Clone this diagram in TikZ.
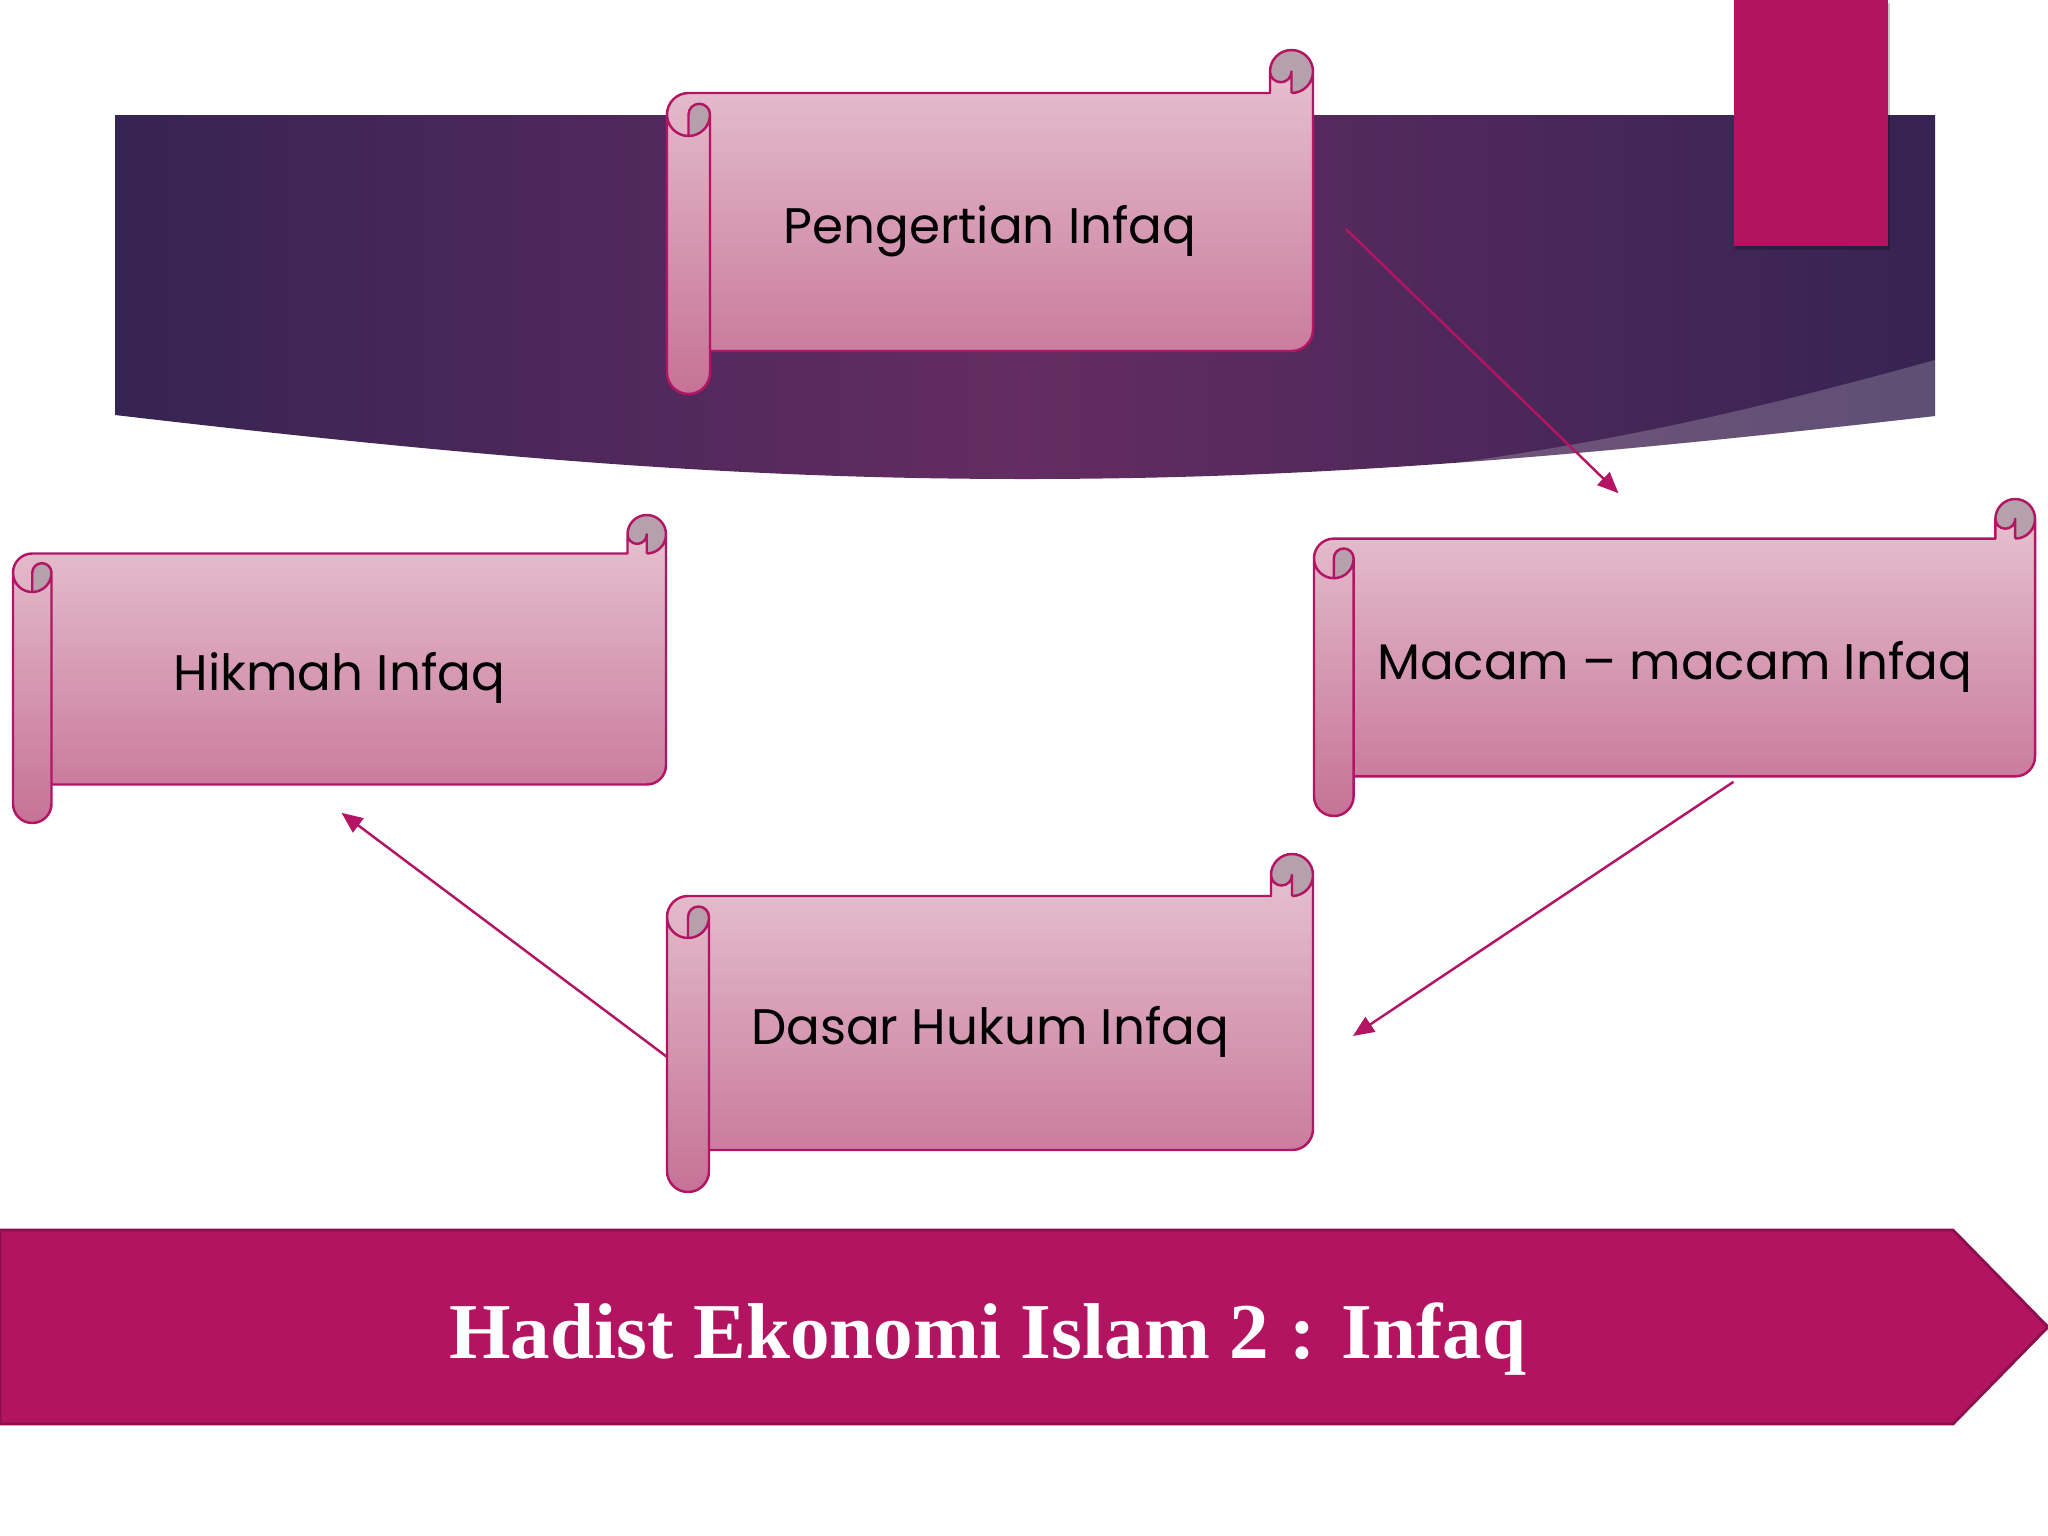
\documentclass[tikz,border=0pt]{standalone}
\usepackage{fontspec}
\setmainfont{Poppins}
\newfontfamily\titlefont{Liberation Serif}
\usetikzlibrary{arrows.meta,calc}

\definecolor{rosedark}{RGB}{180,20,100}
\definecolor{rosetop}{RGB}{231,197,210}
\definecolor{rosebot}{RGB}{198,114,150}
\definecolor{curlgray}{RGB}{182,160,171}
\definecolor{bannerred}{RGB}{178,20,98}
\definecolor{banneredge}{RGB}{140,14,76}
\definecolor{bandedge}{RGB}{54,36,82}
\definecolor{bandmid}{RGB}{100,44,98}

% outline of a rolled scroll (left, top, right, bottom, roll size)
\newcommand\scrollpath{%
  (\scL,\scT+\scC+\scH) arc[start angle=180,end angle=270,radius=\scH]
  -- (\scR-\scC,\scT+\scC) -- (\scR-\scC,\scT+\scH)
  arc[start angle=180,end angle=360,radius=\scH]
  -- (\scR,\scB-\scC-\scH) arc[start angle=0,end angle=90,radius=\scH]
  -- (\scL+\scC,\scB-\scC) -- (\scL+\scC,\scB-\scH)
  arc[start angle=0,end angle=180,radius=\scH] -- cycle}
\newcommand\scrollshape[5]{%
  \pgfmathsetmacro\scL{#1}\pgfmathsetmacro\scT{#2}%
  \pgfmathsetmacro\scR{#3}\pgfmathsetmacro\scB{#4}%
  \pgfmathsetmacro\scC{#5}\pgfmathsetmacro\scH{#5/2}\pgfmathsetmacro\scQ{#5/4}%
  \shade[top color=rosetop,bottom color=rosebot] \scrollpath;
  \fill[curlgray] (\scR-\scH,\scT+\scC) -- (\scR-\scH,\scT+\scH)
    arc[start angle=0,end angle=180,radius=\scQ]
    arc[start angle=180,end angle=360,radius=\scH]
    arc[start angle=0,end angle=90,radius=\scH] -- cycle;
  \fill[curlgray] (\scL+\scH,\scT+2*\scC)
    arc[start angle=90,end angle=0,radius=\scH]
    arc[start angle=0,end angle=-180,radius=\scQ] -- cycle;
  \draw[scrollline] \scrollpath
    (\scR-\scH,\scT+\scC) -- (\scR-\scH,\scT+\scH)
    arc[start angle=0,end angle=180,radius=\scQ]
    (\scR-\scH,\scT+\scC) arc[start angle=90,end angle=0,radius=\scH]
    (\scL,\scT+\scC+\scH) arc[start angle=180,end angle=0,radius=\scH]
    (\scL+\scH,\scT+2*\scC) -- (\scL+\scH,\scT+\scC+\scH)
    arc[start angle=180,end angle=360,radius=\scQ]
    -- (\scL+\scC,\scB-\scC);
}

\begin{document}
\begin{tikzpicture}[x=0.01cm,y=-0.01cm,
  scrollline/.style={draw=rosedark,line width=0.7pt,line join=round},
  scrolltext/.style={font=\fontsize{14.2}{17}\selectfont,inner sep=0pt},
  conn/.style={rosedark,line width=0.7pt,-{Triangle[length=6pt,width=5pt]}},
  titletext/.style={font=\titlefont\bfseries\fontsize{22.5}{26}\selectfont,text=white}]
  \useasboundingbox (0,0) rectangle (2048,1536);
  \fill[white] (0,0) rectangle (2048,1536);

  % purple band
  \shade[left color=bandedge,right color=bandedge,middle color=bandmid]
    (115,115) -- (1935,115) -- (1935,416)
    .. controls (1550,460) and (1300,479) .. (1025,479)
    .. controls (750,479) and (500,460) .. (115,415) -- cycle;
  \begin{scope}
    \clip (115,115) -- (1935,115) -- (1935,416)
      .. controls (1550,460) and (1300,479) .. (1025,479)
      .. controls (750,479) and (500,460) .. (115,415) -- cycle;
    \fill[white,opacity=0.2] (1935,360)
      .. controls (1700,425) and (1550,455) .. (1300,482)
      -- (1300,530) -- (1935,530) -- cycle;
  \end{scope}
  \fill[black,opacity=0.22] (1735,3) rectangle (1890,250);
  \fill[bannerred] (1734,0) rectangle (1888,246);

  % scrolls
  \scrollshape{667}{50}{1313}{394}{43}
  \scrollshape{13}{515}{666}{823}{38.5}
  \scrollshape{1314}{499}{2035}{816}{39.6}
  \scrollshape{667}{854}{1313}{1192}{42}

  \node[scrolltext,minimum width=6.46cm,minimum height=3.44cm] (peng) at (990,231) {Pengertian Infaq};
  \node[scrolltext,minimum width=6.53cm,minimum height=3.08cm] (hikmah) at (339.5,678) {Hikmah Infaq};
  \node[scrolltext,minimum width=7.21cm,minimum height=3.17cm] (macam) at (1674.5,666.5) {Macam -- macam Infaq};
  \node[scrolltext,minimum width=6.46cm,minimum height=3.38cm] (dasar) at (990,1032) {Dasar Hukum Infaq};

  \draw[conn] ($(peng.east)+(32,-2)$) -- ($(macam.north)+(-56,-14)$);
  \draw[conn] ($(macam.south)+(59,-44)$) -- ($(dasar.east)+(39,4)$);
  \draw[conn] ($(dasar.west)+(1,25)$) -- ($(hikmah.south)+(2,-20)$);

  % title banner
  \filldraw[fill=bannerred,draw=banneredge,line width=0.8pt]
    (0,1230) -- (1953,1230) -- (2048,1327) -- (1953,1424) -- (0,1424) -- cycle;
  \node[titletext] (title) at (988,1339) {Hadist Ekonomi Islam 2 : Infaq};
\end{tikzpicture}
\end{document}
